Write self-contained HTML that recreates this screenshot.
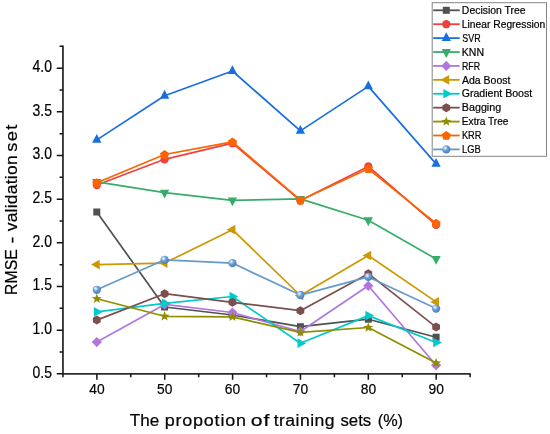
<!DOCTYPE html>
<html><head><meta charset="utf-8"><title>RMSE - validation set</title>
<style>
html,body{margin:0;padding:0;background:#fff}
svg{display:block}
text{font-family:"Liberation Sans",sans-serif;fill:#000;stroke:#000;stroke-width:0.2}
</style></head><body>
<svg width="550" height="434" viewBox="0 0 550 434">
<defs><radialGradient id="sph" cx="0.38" cy="0.36" r="0.62" fx="0.36" fy="0.33">
<stop offset="0" stop-color="#f4f8fd"/><stop offset="0.2" stop-color="#c3d7ee"/><stop offset="0.5" stop-color="#6c9cd3"/><stop offset="1" stop-color="#4a82c3"/></radialGradient></defs>
<rect width="550" height="434" fill="#fff"/>
<g stroke="#2e2e2e" stroke-width="1.8" fill="none">
<path d="M62.95 45.57 V373.85 H470.6"/>
</g><g stroke="#151515" stroke-width="1.5" fill="none">
<path d="M62.95 373.85h-6.2M62.95 352.02h-3.4M62.95 330.18h-6.2M62.95 308.35h-3.4M62.95 286.51h-6.2M62.95 264.68h-3.4M62.95 242.84h-6.2M62.95 221.01h-3.4M62.95 199.17h-6.2M62.95 177.34h-3.4M62.95 155.5h-6.2M62.95 133.67h-3.4M62.95 111.83h-6.2M62.95 90h-3.4M62.95 68.16h-6.2M62.95 46.32h-3.4M62.95 373.85v3.3M96.88 373.85v6M130.81 373.85v3.3M164.74 373.85v6M198.67 373.85v3.3M232.6 373.85v6M266.53 373.85v3.3M300.46 373.85v6M334.39 373.85v3.3M368.32 373.85v6M402.25 373.85v3.3M436.18 373.85v6M470.11 373.85v3.3"/></g>
<g font-size="14.8px">
<text transform="translate(52.0 377.75) scale(0.945 1.07)" text-anchor="end">0.5</text>
<text transform="translate(52.0 334.08) scale(0.945 1.07)" text-anchor="end">1.0</text>
<text transform="translate(52.0 290.41) scale(0.945 1.07)" text-anchor="end">1.5</text>
<text transform="translate(52.0 246.74) scale(0.945 1.07)" text-anchor="end">2.0</text>
<text transform="translate(52.0 203.07) scale(0.945 1.07)" text-anchor="end">2.5</text>
<text transform="translate(52.0 159.4) scale(0.945 1.07)" text-anchor="end">3.0</text>
<text transform="translate(52.0 115.73) scale(0.945 1.07)" text-anchor="end">3.5</text>
<text transform="translate(52.0 72.06) scale(0.945 1.07)" text-anchor="end">4.0</text>
<text transform="translate(96.9 394.3) scale(0.935 1.05)" text-anchor="middle">40</text>
<text transform="translate(164.7 394.3) scale(0.935 1.05)" text-anchor="middle">50</text>
<text transform="translate(232.55 394.3) scale(0.935 1.05)" text-anchor="middle">60</text>
<text transform="translate(300.5 394.3) scale(0.935 1.05)" text-anchor="middle">70</text>
<text transform="translate(368.4 394.3) scale(0.935 1.05)" text-anchor="middle">80</text>
<text transform="translate(436.2 394.3) scale(0.935 1.05)" text-anchor="middle">90</text>
</g>
<text transform="translate(129.82 426.3) scale(1.0062 1)" font-size="17.0px">The</text>
<text transform="translate(164.71 426.3) scale(1.0599 1)" font-size="17.0px" letter-spacing="0.73px">propotion</text>
<text transform="translate(250.67 426.3) scale(1.2444 1)" font-size="17.0px" letter-spacing="0.88px">of</text>
<text transform="translate(273.74 426.3) scale(1.0370 1)" font-size="17.0px" letter-spacing="0.42px">training</text>
<text transform="translate(340.41 426.3) scale(0.9892 1)" font-size="17.0px">sets</text>
<text transform="translate(377.74 426.3) scale(0.9559 1)" font-size="17.0px">(%)</text>
<text transform="translate(17.3 294.88) rotate(-90) scale(0.9298 1)" font-size="17.0px">RMSE</text>
<text transform="translate(17.3 243.61) rotate(-90) scale(1.2121 1)" font-size="17.0px">-</text>
<text transform="translate(17.3 231.33) rotate(-90) scale(1.0231 1)" font-size="17.0px" letter-spacing="0.27px">validation</text>
<text transform="translate(17.3 151.74) rotate(-90) scale(1.0791 1)" font-size="17.0px" letter-spacing="1.22px">set</text>
<g><polyline fill="none" stroke="#515151" stroke-width="1.7" stroke-linejoin="round" points="96.8,212 164.6,307 232.45,315 300.4,326.7 368.3,319.2 436.1,337.2"/>
<rect x="93.3" y="208.5" width="7" height="7" fill="#515151"/>
<rect x="161.1" y="303.5" width="7" height="7" fill="#515151"/>
<rect x="228.95" y="311.5" width="7" height="7" fill="#515151"/>
<rect x="296.9" y="323.2" width="7" height="7" fill="#515151"/>
<rect x="364.8" y="315.7" width="7" height="7" fill="#515151"/>
<rect x="432.6" y="333.7" width="7" height="7" fill="#515151"/>
</g>
<g><polyline fill="none" stroke="#F14040" stroke-width="1.7" stroke-linejoin="round" points="96.8,185 164.6,159.3 232.45,143.2 300.4,200.5 368.3,166.5 436.1,224.9"/>
<circle cx="96.8" cy="185" r="4.15" fill="#F14040"/>
<circle cx="164.6" cy="159.3" r="4.15" fill="#F14040"/>
<circle cx="232.45" cy="143.2" r="4.15" fill="#F14040"/>
<circle cx="300.4" cy="200.5" r="4.15" fill="#F14040"/>
<circle cx="368.3" cy="166.5" r="4.15" fill="#F14040"/>
<circle cx="436.1" cy="224.9" r="4.15" fill="#F14040"/>
</g>
<g><polyline fill="none" stroke="#1A6FDF" stroke-width="1.7" stroke-linejoin="round" points="96.8,139.9 164.6,95.7 232.45,71 300.4,130.9 368.3,86.4 436.1,163.9"/>
<polygon points="96.8,134.03 92.15,142.83 101.45,142.83" fill="#1A6FDF"/>
<polygon points="164.6,89.83 159.95,98.63 169.25,98.63" fill="#1A6FDF"/>
<polygon points="232.45,65.13 227.8,73.93 237.1,73.93" fill="#1A6FDF"/>
<polygon points="300.4,125.03 295.75,133.83 305.05,133.83" fill="#1A6FDF"/>
<polygon points="368.3,80.53 363.65,89.33 372.95,89.33" fill="#1A6FDF"/>
<polygon points="436.1,158.03 431.45,166.83 440.75,166.83" fill="#1A6FDF"/>
</g>
<g><polyline fill="none" stroke="#37AD6B" stroke-width="1.7" stroke-linejoin="round" points="96.8,181.9 164.6,192.7 232.45,200.4 300.4,198.9 368.3,220.3 436.1,259"/>
<polygon points="96.8,187.77 92.15,178.97 101.45,178.97" fill="#37AD6B"/>
<polygon points="164.6,198.57 159.95,189.77 169.25,189.77" fill="#37AD6B"/>
<polygon points="232.45,206.27 227.8,197.47 237.1,197.47" fill="#37AD6B"/>
<polygon points="300.4,204.77 295.75,195.97 305.05,195.97" fill="#37AD6B"/>
<polygon points="368.3,226.17 363.65,217.37 372.95,217.37" fill="#37AD6B"/>
<polygon points="436.1,264.87 431.45,256.07 440.75,256.07" fill="#37AD6B"/>
</g>
<g><polyline fill="none" stroke="#B177DE" stroke-width="1.7" stroke-linejoin="round" points="96.8,342.1 164.6,304.4 232.45,312.5 300.4,331.5 368.3,285.8 436.1,365.2"/>
<polygon points="96.8,337 101.9,342.1 96.8,347.2 91.7,342.1" fill="#B177DE"/>
<polygon points="164.6,299.3 169.7,304.4 164.6,309.5 159.5,304.4" fill="#B177DE"/>
<polygon points="232.45,307.4 237.55,312.5 232.45,317.6 227.35,312.5" fill="#B177DE"/>
<polygon points="300.4,326.4 305.5,331.5 300.4,336.6 295.3,331.5" fill="#B177DE"/>
<polygon points="368.3,280.7 373.4,285.8 368.3,290.9 363.2,285.8" fill="#B177DE"/>
<polygon points="436.1,360.1 441.2,365.2 436.1,370.3 431,365.2" fill="#B177DE"/>
</g>
<g><polyline fill="none" stroke="#CC9900" stroke-width="1.7" stroke-linejoin="round" points="96.8,264.6 164.6,263.1 232.45,229.7 300.4,295.5 368.3,255.5 436.1,301.9"/>
<polygon points="91,264.6 99.7,259.75 99.7,269.45" fill="#CC9900"/>
<polygon points="158.8,263.1 167.5,258.25 167.5,267.95" fill="#CC9900"/>
<polygon points="226.65,229.7 235.35,224.85 235.35,234.55" fill="#CC9900"/>
<polygon points="294.6,295.5 303.3,290.65 303.3,300.35" fill="#CC9900"/>
<polygon points="362.5,255.5 371.2,250.65 371.2,260.35" fill="#CC9900"/>
<polygon points="430.3,301.9 439,297.05 439,306.75" fill="#CC9900"/>
</g>
<g><polyline fill="none" stroke="#00CBCC" stroke-width="1.7" stroke-linejoin="round" points="96.8,311.9 164.6,303.3 232.45,296.5 300.4,343.2 368.3,315.6 436.1,342.5"/>
<polygon points="102.6,311.9 93.9,307.05 93.9,316.75" fill="#00CBCC"/>
<polygon points="170.4,303.3 161.7,298.45 161.7,308.15" fill="#00CBCC"/>
<polygon points="238.25,296.5 229.55,291.65 229.55,301.35" fill="#00CBCC"/>
<polygon points="306.2,343.2 297.5,338.35 297.5,348.05" fill="#00CBCC"/>
<polygon points="374.1,315.6 365.4,310.75 365.4,320.45" fill="#00CBCC"/>
<polygon points="441.9,342.5 433.2,337.65 433.2,347.35" fill="#00CBCC"/>
</g>
<g><polyline fill="none" stroke="#7D4E4E" stroke-width="1.7" stroke-linejoin="round" points="96.8,320.1 164.6,293.7 232.45,302.3 300.4,310.7 368.3,273.7 436.1,327.1"/>
<polygon points="96.8,315.6 100.7,317.85 100.7,322.35 96.8,324.6 92.9,322.35 92.9,317.85" fill="#7D4E4E"/>
<polygon points="164.6,289.2 168.5,291.45 168.5,295.95 164.6,298.2 160.7,295.95 160.7,291.45" fill="#7D4E4E"/>
<polygon points="232.45,297.8 236.35,300.05 236.35,304.55 232.45,306.8 228.55,304.55 228.55,300.05" fill="#7D4E4E"/>
<polygon points="300.4,306.2 304.3,308.45 304.3,312.95 300.4,315.2 296.5,312.95 296.5,308.45" fill="#7D4E4E"/>
<polygon points="368.3,269.2 372.2,271.45 372.2,275.95 368.3,278.2 364.4,275.95 364.4,271.45" fill="#7D4E4E"/>
<polygon points="436.1,322.6 440,324.85 440,329.35 436.1,331.6 432.2,329.35 432.2,324.85" fill="#7D4E4E"/>
</g>
<g><polyline fill="none" stroke="#8E8E00" stroke-width="1.7" stroke-linejoin="round" points="96.8,298.8 164.6,316.3 232.45,316.9 300.4,332.4 368.3,327.5 436.1,363"/>
<polygon points="96.8,293.6 98.06,297.06 101.75,297.19 98.84,299.46 99.86,303.01 96.8,300.95 93.74,303.01 94.76,299.46 91.85,297.19 95.54,297.06" fill="#8E8E00"/>
<polygon points="164.6,311.1 165.86,314.56 169.55,314.69 166.64,316.96 167.66,320.51 164.6,318.45 161.54,320.51 162.56,316.96 159.65,314.69 163.34,314.56" fill="#8E8E00"/>
<polygon points="232.45,311.7 233.71,315.16 237.4,315.29 234.49,317.56 235.51,321.11 232.45,319.05 229.39,321.11 230.41,317.56 227.5,315.29 231.19,315.16" fill="#8E8E00"/>
<polygon points="300.4,327.2 301.66,330.66 305.35,330.79 302.44,333.06 303.46,336.61 300.4,334.55 297.34,336.61 298.36,333.06 295.45,330.79 299.14,330.66" fill="#8E8E00"/>
<polygon points="368.3,322.3 369.56,325.76 373.25,325.89 370.34,328.16 371.36,331.71 368.3,329.65 365.24,331.71 366.26,328.16 363.35,325.89 367.04,325.76" fill="#8E8E00"/>
<polygon points="436.1,357.8 437.36,361.26 441.05,361.39 438.14,363.66 439.16,367.21 436.1,365.15 433.04,367.21 434.06,363.66 431.15,361.39 434.84,361.26" fill="#8E8E00"/>
</g>
<g><polyline fill="none" stroke="#FB6501" stroke-width="1.7" stroke-linejoin="round" points="96.8,182.7 164.6,154.5 232.45,141.9 300.4,200.2 368.3,168.8 436.1,223.3"/>
<polygon points="96.8,178.2 101.37,181.52 99.62,186.88 93.98,186.88 92.23,181.52" fill="#FB6501"/>
<polygon points="164.6,150 169.17,153.32 167.42,158.68 161.78,158.68 160.03,153.32" fill="#FB6501"/>
<polygon points="232.45,137.4 237.02,140.72 235.27,146.08 229.63,146.08 227.88,140.72" fill="#FB6501"/>
<polygon points="300.4,195.7 304.97,199.02 303.22,204.38 297.58,204.38 295.83,199.02" fill="#FB6501"/>
<polygon points="368.3,164.3 372.87,167.62 371.12,172.98 365.48,172.98 363.73,167.62" fill="#FB6501"/>
<polygon points="436.1,218.8 440.67,222.12 438.92,227.48 433.28,227.48 431.53,222.12" fill="#FB6501"/>
</g>
<g><polyline fill="none" stroke="#6699CC" stroke-width="1.7" stroke-linejoin="round" points="96.8,289.8 164.6,259.8 232.45,263.1 300.4,295.1 368.3,276.9 436.1,308.6"/>
<circle cx="96.8" cy="289.8" r="4.15" fill="url(#sph)"/>
<circle cx="164.6" cy="259.8" r="4.15" fill="url(#sph)"/>
<circle cx="232.45" cy="263.1" r="4.15" fill="url(#sph)"/>
<circle cx="300.4" cy="295.1" r="4.15" fill="url(#sph)"/>
<circle cx="368.3" cy="276.9" r="4.15" fill="url(#sph)"/>
<circle cx="436.1" cy="308.6" r="4.15" fill="url(#sph)"/>
</g>
<rect x="432.2" y="2.7" width="114.3" height="153.6" fill="#fff" stroke="#858585" stroke-width="1"/>
<path d="M433.2 10.3H459.7" stroke="#515151" stroke-width="1.8"/>
<rect x="442.8" y="6.8" width="7" height="7" fill="#515151"/>
<text stroke-width="0.4" transform="translate(461.85 14) scale(0.9766 1)" font-size="10.7px">Decision Tree</text>
<path d="M433.2 24.21H459.7" stroke="#F14040" stroke-width="1.8"/>
<circle cx="446.3" cy="24.21" r="4.15" fill="#F14040"/>
<text stroke-width="0.4" transform="translate(461.86 27.9) scale(0.9609 1)" font-size="10.7px">Linear Regression</text>
<path d="M433.2 38.12H459.7" stroke="#1A6FDF" stroke-width="1.8"/>
<polygon points="446.3,32.25 441.65,41.05 450.95,41.05" fill="#1A6FDF"/>
<text stroke-width="0.4" transform="translate(462.28 41.8) scale(0.8333 1)" font-size="10.7px">SVR</text>
<path d="M433.2 52.03H459.7" stroke="#37AD6B" stroke-width="1.8"/>
<polygon points="446.3,57.9 441.65,49.1 450.95,49.1" fill="#37AD6B"/>
<text stroke-width="0.4" transform="translate(461.84 55.7) scale(0.9868 1)" font-size="10.7px">KNN</text>
<path d="M433.2 65.94H459.7" stroke="#B177DE" stroke-width="1.8"/>
<polygon points="446.3,60.84 451.4,65.94 446.3,71.04 441.2,65.94" fill="#B177DE"/>
<text stroke-width="0.4" transform="translate(461.98 69.6) scale(0.8242 1)" font-size="10.7px">RFR</text>
<path d="M433.2 79.85H459.7" stroke="#CC9900" stroke-width="1.8"/>
<polygon points="440.5,79.85 449.2,75 449.2,84.7" fill="#CC9900"/>
<text stroke-width="0.4" transform="translate(462 83.5) scale(0.9827 1)" font-size="10.7px">Ada Boost</text>
<path d="M433.2 93.76H459.7" stroke="#00CBCC" stroke-width="1.8"/>
<polygon points="452.1,93.76 443.4,88.91 443.4,98.61" fill="#00CBCC"/>
<text stroke-width="0.4" transform="translate(461.71 97.4) scale(0.9880 1)" font-size="10.7px">Gradient Boost</text>
<path d="M433.2 107.67H459.7" stroke="#7D4E4E" stroke-width="1.8"/>
<polygon points="446.3,103.17 450.2,105.42 450.2,109.92 446.3,112.17 442.4,109.92 442.4,105.42" fill="#7D4E4E"/>
<text stroke-width="0.4" transform="translate(461.82 111.3) scale(1.0020 1)" font-size="10.7px">Bagging</text>
<path d="M433.2 121.58H459.7" stroke="#8E8E00" stroke-width="1.8"/>
<polygon points="446.3,116.38 447.56,119.84 451.25,119.97 448.34,122.24 449.36,125.79 446.3,123.73 443.24,125.79 444.26,122.24 441.35,119.97 445.04,119.84" fill="#8E8E00"/>
<text stroke-width="0.4" transform="translate(461.87 125.2) scale(0.9438 1)" font-size="10.7px">Extra Tree</text>
<path d="M433.2 135.49H459.7" stroke="#FB6501" stroke-width="1.8"/>
<polygon points="446.3,130.99 450.87,134.31 449.12,139.67 443.48,139.67 441.73,134.31" fill="#FB6501"/>
<text stroke-width="0.4" transform="translate(461.94 139.1) scale(0.8663 1)" font-size="10.7px">KRR</text>
<path d="M433.2 149.4H459.7" stroke="#6699CC" stroke-width="1.8"/>
<circle cx="446.3" cy="149.4" r="4.15" fill="url(#sph)"/>
<text stroke-width="0.4" transform="translate(461.93 153) scale(0.8750 1)" font-size="10.7px">LGB</text>
</svg></body></html>
